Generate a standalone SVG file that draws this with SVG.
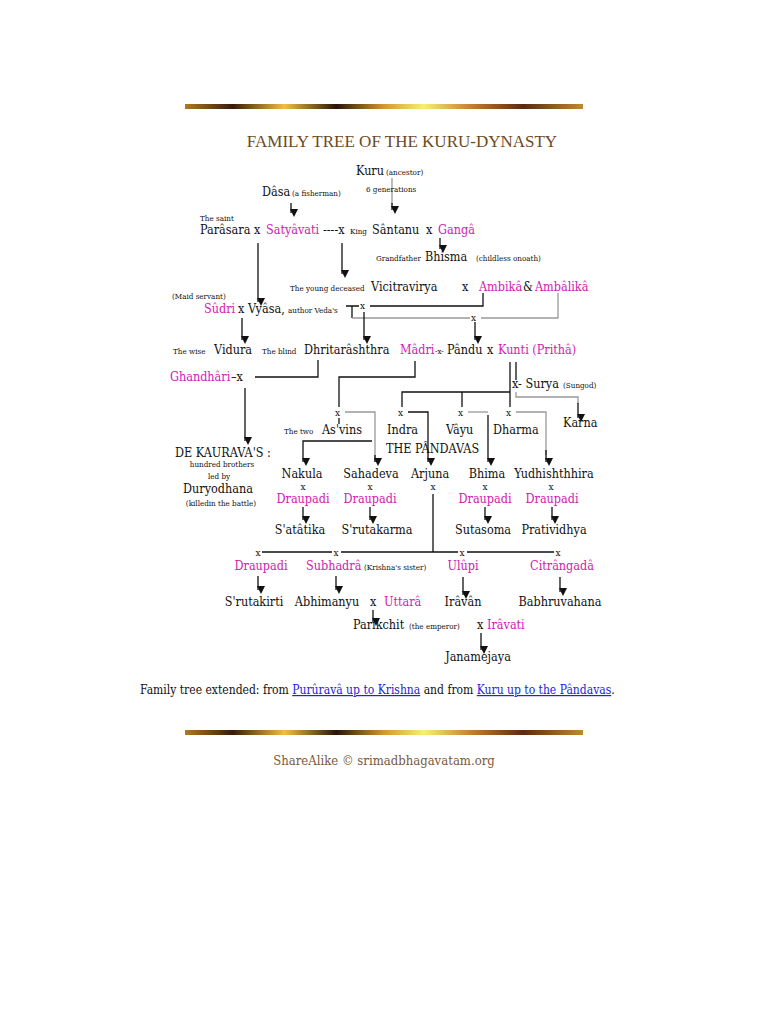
<svg xmlns="http://www.w3.org/2000/svg" width="768" height="1024" viewBox="0 0 768 1024">
<style>
text{font-family:"DejaVu Serif Condensed","DejaVu Serif","Liberation Serif",serif;font-stretch:condensed;font-size:12.5px;fill:#111}
.m{fill:#d020b0}
.s{font-size:8px}
.x{font-size:10px}
.c{text-anchor:middle}
.k{stroke:#111;stroke-width:1.3;fill:none}
.g{stroke:#999;stroke-width:1.3;fill:none}
.t{font-family:"Liberation Serif",serif;font-stretch:normal;font-size:17px;fill:#6b4a1e}
.l{fill:#2222dd;text-decoration:underline}
</style>
<defs>
<linearGradient id="bar" x1="0" x2="1">
<stop offset="0" stop-color="#b07a20"/><stop offset="0.12" stop-color="#3a1a08"/><stop offset="0.25" stop-color="#f0c040"/><stop offset="0.38" stop-color="#2a1408"/><stop offset="0.5" stop-color="#d09a30"/><stop offset="0.6" stop-color="#f8f070"/><stop offset="0.72" stop-color="#c08030"/><stop offset="0.85" stop-color="#5a2a10"/><stop offset="1" stop-color="#c08a30"/>
</linearGradient>
<marker id="a" markerWidth="8" markerHeight="8" refX="4" refY="7" orient="auto" markerUnits="userSpaceOnUse" viewBox="0 0 8 8"><path d="M0,0 L8,0 L4,8 Z" fill="#111" transform="rotate(-90 4 4)"/></marker>
</defs>
<rect x="185" y="104" width="398" height="5" fill="url(#bar)"/>
<rect x="185" y="730" width="398" height="5" fill="url(#bar)"/>
<text class="t c" x="402" y="147">FAMILY TREE OF THE KURU-DYNASTY</text>

<g id="connectors">
<path class="g" d="M392,178 V204"/><path class="k" d="M392,203 V210" marker-end="url(#a)"/>
<path class="k" d="M291,203 V213" marker-end="url(#a)"/>
<path class="k" d="M440,238 V249" marker-end="url(#a)"/>
<path class="k" d="M258,243 V302" marker-end="url(#a)"/>
<path class="k" d="M342,243 V274" marker-end="url(#a)"/>
<path class="k" d="M346,306 H352 M352,306 V318 M352,306 H359 M370,306 H483 V293"/>
<path class="g" d="M352,318 H470 M481,318 H558 V293"/>
<path class="k" d="M364,312 V340" marker-end="url(#a)"/>
<path class="k" d="M475,322 V340" marker-end="url(#a)"/>
<path class="k" d="M242,318 V340" marker-end="url(#a)"/>
<path class="k" d="M255,377 H318 V360"/>
<path class="k" d="M245,388 V441" marker-end="url(#a)"/>
<path class="k" d="M415,361 V377 H339 V407"/>
<path class="k" d="M510,362 V392 H402 V407 M462,392 V407 M510,392 V407"/>
<path class="k" d="M516,362 V380"/>
<path class="g" d="M516,392 V397 H578 V404"/><path class="k" d="M578,403 V418" marker-end="url(#a)"/>
<path class="g" d="M345,412 H375 V462"/><path class="k" d="M375,455 V462" marker-end="url(#a)"/>
<path class="k" d="M339,418 V424"/>
<path class="k" d="M372,441 H303 V462" marker-end="url(#a)"/>
<path class="k" d="M408,412 H428 V462" marker-end="url(#a)"/>
<path class="g" d="M468,412 H488"/><path class="k" d="M488,415 V462" marker-end="url(#a)"/>
<path class="g" d="M516,412 H546 V455"/><path class="k" d="M546,450 V462" marker-end="url(#a)"/>
<path class="k" d="M303,507 V520" marker-end="url(#a)"/><path class="k" d="M370,507 V520" marker-end="url(#a)"/><path class="k" d="M485,507 V520" marker-end="url(#a)"/><path class="k" d="M552,507 V520" marker-end="url(#a)"/>
<path class="k" d="M433,494 V552 M262,552 H332 M341,552 H458 M467,552 H554"/>
<path class="k" d="M258,576 V590" marker-end="url(#a)"/>
<path class="k" d="M336,576 V590" marker-end="url(#a)"/>
<path class="k" d="M463,577 V595" marker-end="url(#a)"/>
<path class="k" d="M560,577 V592" marker-end="url(#a)"/>
<path class="k" d="M373,610 V622" marker-end="url(#a)"/>
<path class="k" d="M481,633 V650" marker-end="url(#a)"/>
</g>

<g id="kuru"><text x="356" y="175">Kuru</text><text class="s" x="386" y="175">(ancestor)</text><text class="s" x="366" y="192">6 generations</text></g>
<g id="dasa"><text x="262" y="196">Dâsa</text><text class="s" x="292" y="196">(a fisherman)</text></g>
<g id="parasara"><text class="s" x="200" y="221">The saint</text><text x="200" y="234">Parâsara</text><text x="254" y="234">x</text></g>
<g id="satyavati"><text class="m" x="266" y="234">Satyâvati</text><text x="323" y="234">----x</text></g>
<g id="santanu"><text class="s" x="350" y="234">King</text><text x="372" y="234">Sântanu</text><text x="426" y="234">x</text><text class="m" x="438" y="234">Gangâ</text></g>
<g id="bhisma"><text class="s" x="376" y="261">Grandfather</text><text x="425" y="261">Bhisma</text><text class="s" x="476" y="261">(childless onoath)</text></g>
<g id="vicitravirya"><text class="s" x="290" y="291">The young deceased</text><text x="371" y="291">Vicitravirya</text><text x="462" y="291">x</text><text class="m" x="479" y="291">Ambikâ</text><text x="523" y="291">&amp;</text><text class="m" x="535" y="291">Ambâlikâ</text></g>
<g id="vyasa"><text class="s" x="172" y="299">(Maid servant)</text><text class="m" x="204" y="313">Sûdri</text><text x="238" y="313">x</text><text x="248" y="313">Vyâsa,</text><text class="s" x="288" y="313">author Veda's</text><text class="x" x="360" y="309">x</text><text class="x" x="471" y="321">x</text></g>
<g id="vidura"><text class="s" x="173" y="354">The wise</text><text x="214" y="354">Vidura</text></g>
<g id="dhritarashtra"><text class="s" x="262" y="354">The blind</text><text x="304" y="354">Dhritarâshthra</text></g>
<g id="pandu"><text class="m" x="400" y="354">Mâdri</text><text class="s" x="435" y="354">-x-</text><text x="447" y="354">Pându</text><text x="487" y="354">x</text><text class="m" x="498" y="354">Kunti (Prithâ)</text></g>
<g id="ghandhari"><text class="m" x="170" y="381">Ghandhâri</text><text x="231" y="381">–x</text></g>
<g id="surya"><text x="512" y="388">x- Surya</text><text class="s" x="563" y="388">(Sungod)</text></g>
<g id="gods"><text class="x" x="335" y="416">x</text><text class="x" x="398" y="416">x</text><text class="x" x="458" y="416">x</text><text class="x" x="506" y="416">x</text>
<text class="s" x="284" y="434">The two</text><text x="322" y="434">As'vins</text><text x="387" y="434">Indra</text><text x="446" y="434">Vâyu</text><text x="493" y="434">Dharma</text></g>
<g id="karna"><text x="563" y="427">Karna</text></g>
<g id="pandavas-label"><text x="386" y="453">THE PÂNDAVAS</text></g>
<g id="kauravas"><text x="175" y="457">DE KAURAVA'S :</text><text class="s c" x="222" y="467">hundred brothers</text><text class="s c" x="219" y="479">led by</text><text class="c" x="218" y="493">Duryodhana</text><text class="s c" x="221" y="506">(killedin the battle)</text></g>
<g id="pandavas">
<text class="c" x="302" y="478">Nakula</text><text class="c" x="371" y="478">Sahadeva</text><text class="c" x="430" y="478">Arjuna</text><text class="c" x="487" y="478">Bhima</text><text class="c" x="554" y="478">Yudhishthhira</text>
<text class="x c" x="303" y="490">x</text><text class="x c" x="370" y="490">x</text><text class="x c" x="433" y="490">x</text><text class="x c" x="485" y="490">x</text><text class="x c" x="551" y="490">x</text>
<text class="m c" x="303" y="503">Draupadi</text><text class="m c" x="370" y="503">Draupadi</text><text class="m c" x="485" y="503">Draupadi</text><text class="m c" x="552" y="503">Draupadi</text>
<text class="c" x="300" y="534">S'atâtika</text><text class="c" x="377" y="534">S'rutakarma</text><text class="c" x="483" y="534">Sutasoma</text><text class="c" x="554" y="534">Pratividhya</text></g>
<g id="arjuna-wives">
<text class="x c" x="258" y="556">x</text><text class="x c" x="336" y="556">x</text><text class="x c" x="462" y="556">x</text><text class="x c" x="558" y="556">x</text>
<text class="m c" x="261" y="570">Draupadi</text><text class="m" x="306" y="570">Subhadrâ</text><text class="s" x="364" y="570">(Krishna's sister)</text><text class="m c" x="463" y="570">Ulûpi</text><text class="m c" x="562" y="570">Citrângadâ</text>
<text class="c" x="254" y="606">S'rutakirti</text><text class="c" x="327" y="606">Abhimanyu</text><text x="370" y="606">x</text><text class="m" x="384" y="606">Uttarâ</text><text class="c" x="463" y="606">Irâvân</text><text class="c" x="560" y="606">Babhruvahana</text></g>
<g id="parikchit"><text x="353" y="629">Parikchit</text><text class="s" x="409" y="629">(the emperor)</text><text x="477" y="629">x</text><text class="m" x="487" y="629">Irâvati</text></g>
<g id="janamejaya"><text class="c" x="478" y="661">Janamejaya</text></g>
<text x="140" y="694" style="font-size:12px">Family tree extended: from <tspan class="l">Purûravâ up to Krishna</tspan> and from <tspan class="l">Kuru up to the Pândavas</tspan>.</text>
<text class="c" x="384" y="765" style="font-size:13px;fill:#7a5a3a">ShareAlike © srimadbhagavatam.org</text>
</svg>
